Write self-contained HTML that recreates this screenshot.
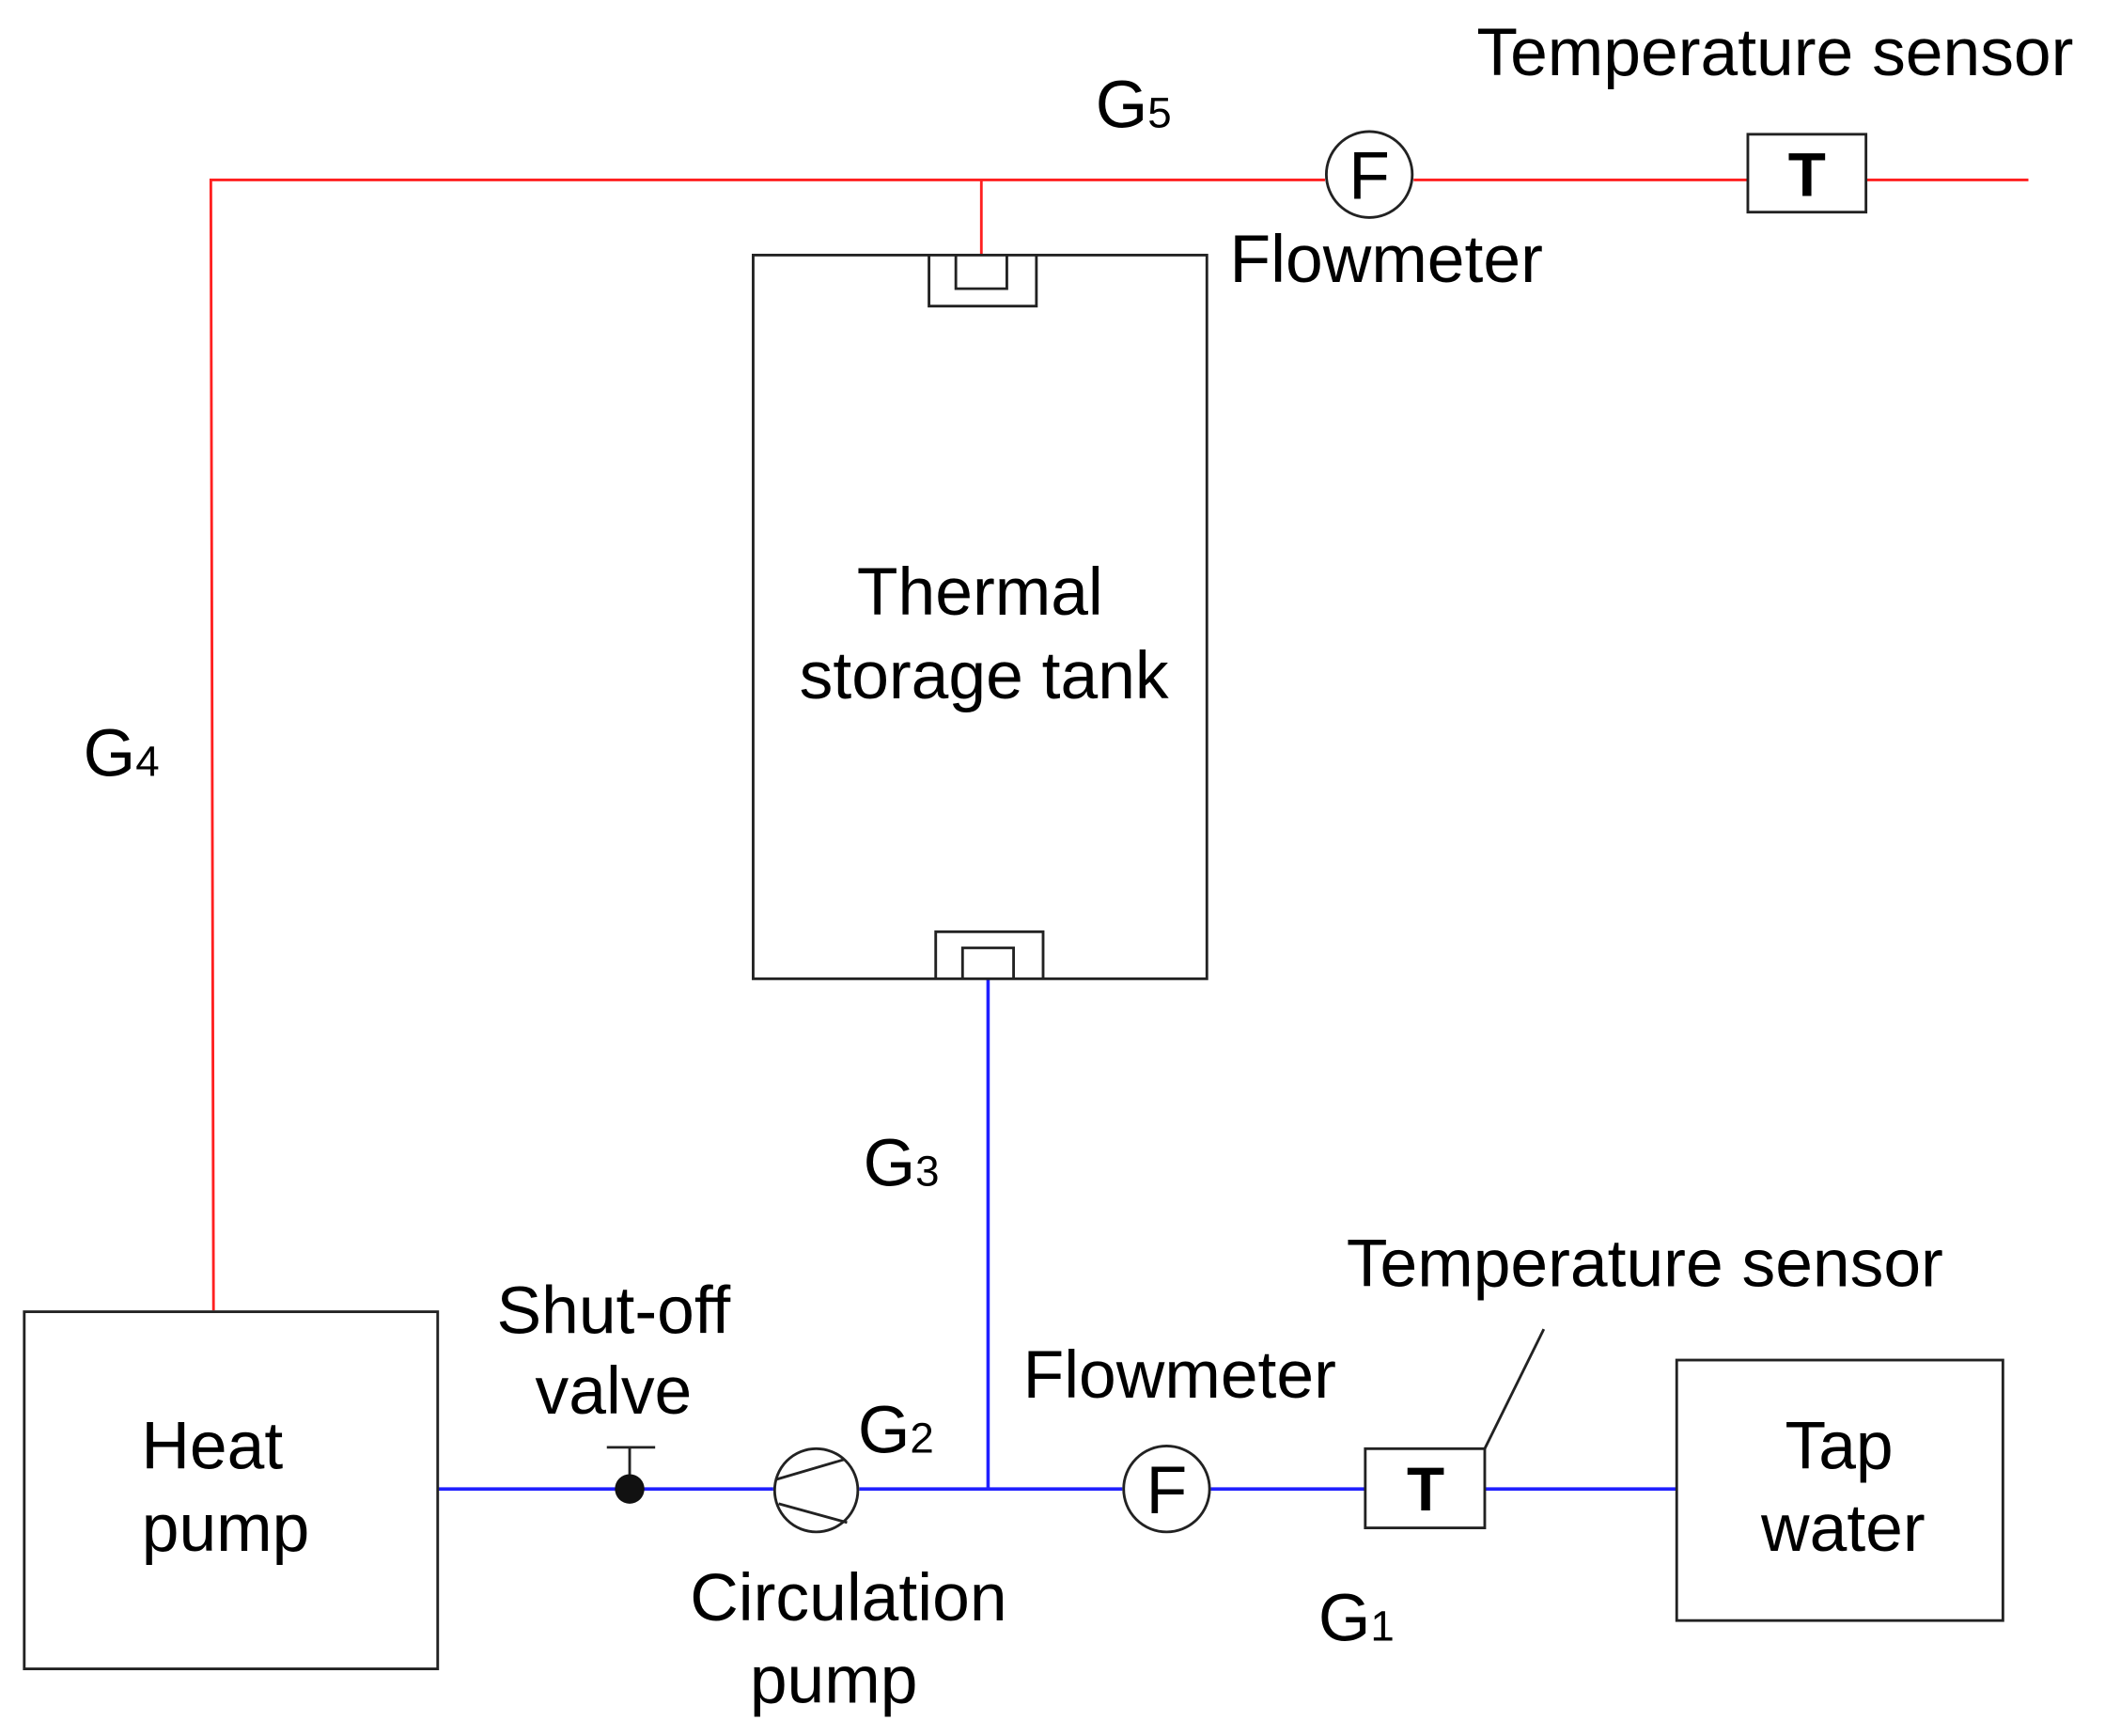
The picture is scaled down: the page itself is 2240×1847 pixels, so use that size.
<!DOCTYPE html>
<html><head><style>html,body{margin:0;padding:0;background:#fff}svg{display:block}</style></head>
<body>
<svg width="2240" height="1847" viewBox="0 0 1568 1293" xmlns="http://www.w3.org/2000/svg" font-family="Liberation Sans, Arial, sans-serif">
<rect width="1568" height="1293" fill="#fff"/>
<g stroke="#ff2020" stroke-width="2" fill="none">
<polyline points="159,976 157,134 987,134"/>
<line x1="1053" y1="134" x2="1302" y2="134"/>
<line x1="1390" y1="134" x2="1511" y2="134"/>
<line x1="731" y1="134" x2="731" y2="190"/>
</g>
<g stroke="#2020ff" stroke-width="2.5" fill="none">
<line x1="326" y1="1109" x2="576" y2="1109"/>
<line x1="640" y1="1109" x2="836" y2="1109"/>
<line x1="902" y1="1109" x2="1017" y2="1109"/>
<line x1="1106" y1="1109" x2="1249" y2="1109"/>
<line x1="736" y1="729" x2="736" y2="1109"/>
</g>
<g stroke="#222" stroke-width="2" fill="none">
<rect x="561" y="190" width="338" height="539"/>
<polyline points="692,190 692,228 772,228 772,190" />
<polyline points="712,190 712,215 750,215 750,190" />
<polyline points="697,729 697,694 777,694 777,729" />
<polyline points="717,729 717,706 755,706 755,729" />
<rect x="18" y="977" width="308" height="266"/>
<rect x="1249" y="1013" width="243" height="194"/>
<rect x="1017" y="1079" width="89" height="59" fill="#fff"/>
<rect x="1302" y="100" width="88" height="58" fill="#fff"/>
<circle cx="1020" cy="130" r="32" fill="#fff"/>
<circle cx="869" cy="1109" r="32" fill="#fff"/>
<circle cx="608" cy="1110" r="31" fill="#fff"/>
<line x1="578" y1="1102" x2="629" y2="1087"/>
<line x1="580" y1="1120" x2="631" y2="1134"/>
<line x1="1106" y1="1079" x2="1150" y2="990"/>
<line x1="469" y1="1078" x2="469" y2="1100"/>
<line x1="452" y1="1078" x2="488" y2="1078"/>
</g>
<circle cx="469" cy="1109" r="11" fill="#111"/>
<g fill="#000" font-size="50">
<text x="1020" y="148" text-anchor="middle">F</text>
<text x="869" y="1127" text-anchor="middle">F</text>
<text x="1346" y="146" text-anchor="middle" font-size="46" font-weight="bold">T</text>
<text x="1062" y="1125" text-anchor="middle" font-size="46" font-weight="bold">T</text>
<text x="1100" y="56">Temperature sensor</text>
<text x="1003" y="958">Temperature sensor</text>
<text x="916" y="210">Flowmeter</text>
<text x="762" y="1041">Flowmeter</text>
<text x="730" y="458" text-anchor="middle">Thermal</text>
<text x="733" y="520" text-anchor="middle">storage tank</text>
<text x="158" y="1094" text-anchor="middle">Heat</text>
<text x="168" y="1155" text-anchor="middle">pump</text>
<text x="1370" y="1094" text-anchor="middle">Tap</text>
<text x="1373" y="1155" text-anchor="middle">water</text>
<text x="457" y="993" text-anchor="middle">Shut-off</text>
<text x="457" y="1053" text-anchor="middle">valve</text>
<text x="632" y="1207" text-anchor="middle">Circulation</text>
<text x="621" y="1268" text-anchor="middle">pump</text>
<text x="816" y="95">G<tspan font-size="32">5</tspan></text>
<text x="62" y="578">G<tspan font-size="32">4</tspan></text>
<text x="643" y="883">G<tspan font-size="32">3</tspan></text>
<text x="639" y="1082">G<tspan font-size="32">2</tspan></text>
<text x="982" y="1222">G<tspan font-size="32">1</tspan></text>
</g>
</svg>
</body></html>
